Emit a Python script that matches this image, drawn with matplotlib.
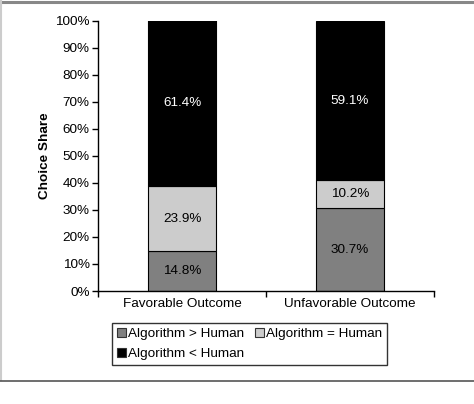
import matplotlib
matplotlib.use("Agg")
import matplotlib.pyplot as plt
from matplotlib.lines import Line2D
from matplotlib.patches import Patch
from matplotlib.ticker import PercentFormatter

plt.rcParams['font.family'] = ['Liberation Sans', 'DejaVu Sans']

categories = ["Favorable Outcome", "Unfavorable Outcome"]
series_names = ["Algorithm > Human", "Algorithm = Human", "Algorithm < Human"]
algo_greater = [14.8, 30.7]
algo_equal = [23.9, 10.2]
algo_less = [61.4, 59.1]
series_values = [algo_greater, algo_equal, algo_less]
series_colors = ["#808080", "#cccccc", "#000000"]
label_colors = ["black", "black", "white"]

FS = 9.7
W, H = 474, 404
fig = plt.figure(figsize=(W / 100, H / 100), dpi=100)
ax = fig.add_axes([98 / W, 1 - 291 / H, 336 / W, (291 - 20.7) / H])

x = list(range(len(categories)))
bottoms = [0.0] * len(categories)
handles = []
for name, vals, col, lc in zip(series_names, series_values, series_colors, label_colors):
    ax.bar(x, vals, width=0.4, bottom=bottoms, color=col, edgecolor="black", linewidth=0.8)
    for xi, v, b in zip(x, vals, bottoms):
        ax.text(xi, b + v / 2, f"{v:.1f}%", ha="center", va="center", color=lc, fontsize=FS)
    bottoms = [b + v for b, v in zip(bottoms, vals)]
    handles.append(Patch(facecolor=col, edgecolor="#333333", linewidth=0.8, label=name))

ax.set_xlim(-0.5, len(categories) - 0.5)
ax.set_ylim(0, 100)
ax.set_yticks(range(0, 101, 10))
ax.yaxis.set_major_formatter(PercentFormatter(decimals=0))
ax.set_xticks([i - 0.5 for i in range(len(categories) + 1)])
ax.set_xticklabels([])
ax.set_xticks(x, minor=True)
ax.set_xticklabels(categories, minor=True, fontsize=FS)
ax.tick_params(axis="x", which="minor", length=0, pad=5)
ax.tick_params(axis="x", which="major", length=4, width=1, direction="out")
ax.tick_params(axis="y", length=4, width=1, direction="out", labelsize=FS, pad=2)
for s in ["top", "right"]:
    ax.spines[s].set_visible(False)
for s in ["left", "bottom"]:
    ax.spines[s].set_linewidth(1.0)
ax.set_ylabel("Choice Share", fontsize=FS, fontweight="bold", labelpad=3)

order = [0, 2, 1]
leg = fig.legend([handles[i] for i in order], [series_names[i] for i in order],
                 ncol=2, loc="center", bbox_to_anchor=((112 + 387) / 2 / W, 1 - 344 / H),
                 fontsize=FS, frameon=True, fancybox=False, edgecolor="black",
                 handlelength=0.7, handleheight=0.7, handletextpad=0.15,
                 columnspacing=0.8, labelspacing=0.55, borderpad=0.35, borderaxespad=0)
leg.get_frame().set_linewidth(1.0)

# outer frame lines
fig.add_artist(Line2D([0, 1], [1 - 1.5 / H, 1 - 1.5 / H], color="#888888", linewidth=2.2, transform=fig.transFigure))
fig.add_artist(Line2D([1 / W, 1 / W], [1, 1 - 380 / H], color="#cccccc", linewidth=1.5, transform=fig.transFigure))
fig.add_artist(Line2D([0, 1], [1 - 380.5 / H, 1 - 380.5 / H], color="#555555", linewidth=1.2, transform=fig.transFigure))

fig.savefig("out.png", dpi=100)
